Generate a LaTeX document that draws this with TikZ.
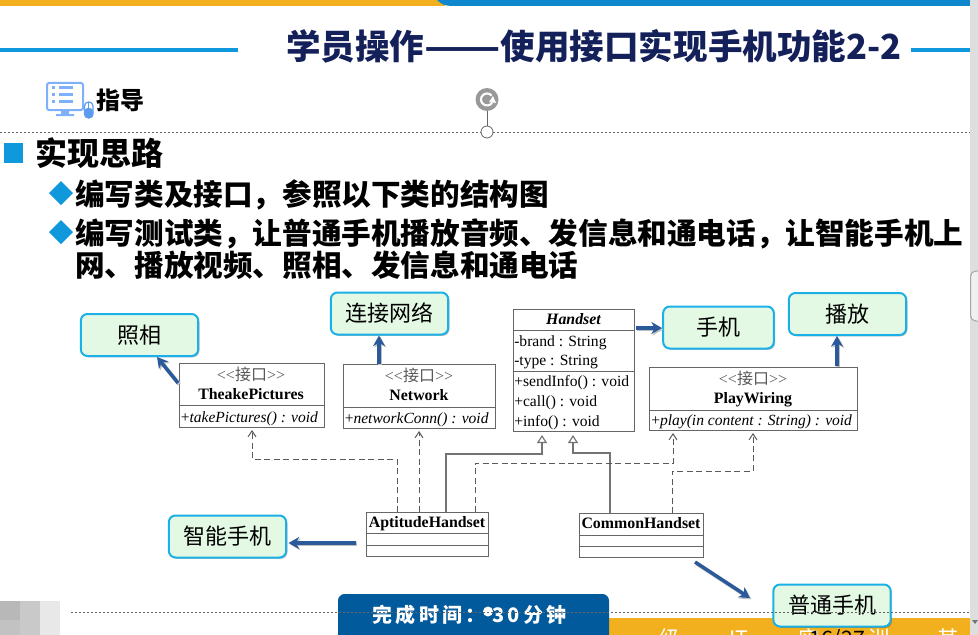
\documentclass[tikz,border=0pt]{standalone}
\usepackage{fontspec}
\usepackage{graphicx}
\usetikzlibrary{arrows.meta,shadows,calc,shapes.geometric}
\setmainfont{Liberation Serif}
\newfontfamily\cjk{Noto Sans CJK SC}
\newfontfamily\cjkspaced{Noto Sans CJK SC}[LetterSpace=17]
\newcommand\fs[1]{\fontsize{#1}{#1}\selectfont}
\newcommand\iface{<{}<{\cjk 接口}>{}>}
\definecolor{navy}{HTML}{14205A}
\definecolor{sky}{HTML}{1098DC}
\definecolor{gold}{HTML}{F2B01E}
\definecolor{topblue}{HTML}{0F87CC}
\definecolor{callfill}{HTML}{E3F9E3}
\definecolor{callline}{HTML}{1CB0E8}
\definecolor{arrowblue}{HTML}{2A5A9B}
\definecolor{umlline}{HTML}{666666}
\definecolor{iconblue}{HTML}{7FB0FA}
\definecolor{mouseblue}{HTML}{5B9BF0}
\definecolor{btn}{HTML}{005A9C}
\tikzset{
  x=0.75pt,y=-0.75pt,
  callout/.style={draw=callline,line width=1.5pt,fill=callfill,rounded corners=5pt,
    minimum width=88pt,minimum height=31.5pt,inner sep=0pt,font=\cjk\fs{16.5},
    drop shadow={shadow xshift=1pt,shadow yshift=-1pt,opacity=.25,fill=black}},
  umlbox/.style={draw=umlline,line width=.75pt,fill=white,inner sep=0pt,anchor=north west},
  umldiv/.style={draw=umlline,line width=.75pt},
  stereo/.style={inner sep=0pt,font=\fs{12},text=black!65},
  cname/.style={inner sep=0pt,font=\bfseries\fs{11.9}},
  oper/.style={inner sep=0pt,anchor=base west,font=\itshape\fs{11.65}},
  attr/.style={inner sep=0pt,anchor=base west,font=\fs{11.7}},
  heading/.style={inner sep=0pt,anchor=base west},
  dep/.style={draw=black!65,line width=.75pt,dash pattern=on 4.5pt off 2.6pt,shorten >=1.5pt,-{Straight Barb[length=4.5pt,width=6pt]}},
  inh/.style={draw=black!55,line width=.85pt,shorten >=2.25pt,-{Triangle[open,fill=white,length=6pt,width=7.5pt]}},
  note/.style={draw=arrowblue,line width=2.6pt,-{Stealth[length=8pt,width=9pt]},
    preaction={draw=black!25,line width=3pt,transform canvas={shift={(1pt,-1pt)}},-{Stealth[length=8pt,width=9pt]}}},
  dots/.style={draw=black!60,line width=.75pt,dash pattern=on 1.5pt off 1.5pt},
}
\begin{document}
\begin{tikzpicture}
\useasboundingbox (0,0) rectangle (978,635);
\clip (0,0) rectangle (978,635);
% window chrome and slide bands
\fill[gold] (0,0) rectangle (445,6);
\fill[topblue] (437,0) .. controls (441,4) and (445,6) .. (452,6) -- (972,6) -- (972,0) -- cycle;
\fill[black!13] (970,0) rectangle (978,635);
\draw[black!35,fill=black!6,line width=.75pt,rounded corners=4pt] (985,271) -- (970.5,271) -- (970.5,321) -- (985,321);
\fill[black!55] (972,620) -- (978,620) -- (975,624) -- cycle;
\fill[sky] (0,48.5) rectangle (238,52);
\fill[sky] (911,48.5) rectangle (970,52);
% blurred patch
\fill[black!28] (0,601) rectangle (20,620);
\fill[black!24] (0,620) rectangle (20,635);
\fill[black!21] (20,601) rectangle (40,635);
\fill[black!9] (40,601) rectangle (60,635);
% title
\node[heading,text=navy,font=\cjk\bfseries\fs{25.9}] (title) at (286,60) {学员操作\scalebox{1.29}[1]{——}使用接口实现手机功能2-2};
% icon
\draw[iconblue,line width=1.5pt,fill=white,rounded corners=1.5pt] (47,83) rectangle (83,110);
\fill[iconblue] (61,110) rectangle (69,114) (56,114) rectangle (74,116);
\foreach \yy in {88,95,102}{
  \fill[iconblue] (52,\yy-1.5) rectangle (55,\yy+1.5);
  \fill[iconblue] (59,\yy-1.5) rectangle (73,\yy+1.5);
}
\draw[mouseblue,line width=.9pt,fill=white,rounded corners=3pt] (84.5,102) rectangle (93,118);
\fill[mouseblue,rounded corners=2.5pt] (84.5,108) rectangle (93,118);
\draw[mouseblue,line width=.9pt] (88.7,102) -- (88.7,108);
\node[heading,font=\cjk\bfseries\fs{18}] (guide) at (96,109) {指导};
% rotate handle
\fill[black!40] (487,99.5) circle[radius=11.5];
\draw[white,line width=1.6pt] (487,99.5) ++(-40:6) arc[start angle=-40,end angle=-330,radius=6];
\fill[white] (493,96) -- (496,103) -- (489,102) -- cycle;
\coordinate (rot) at (487,111);
\node[circle,draw=black!60,fill=white,line width=.6pt,minimum size=9pt,inner sep=0pt] (handle) at (487,132) {};
\draw[black!60,line width=.6pt] (rot) -- (handle);
% bullets and body
\fill[sky] (4,143) rectangle (23,163);
\node[heading,font=\cjk\bfseries\fs{24}] (h1) at (35,165) {实现思路};
\foreach \yy in {193,232}{
  \fill[sky] (49,\yy) -- (61,\yy-12) -- (73,\yy) -- (61,\yy+12) -- cycle;
}
\node[heading,font=\cjk\bfseries\fs{22.2}] (l1) at (75,205.5) {编写类及接口，参照以下类的结构图};
\node[heading,font=\cjk\bfseries\fs{22.2}] (l2) at (75,244) {编写测试类，让普通手机播放音频、发信息和通电话，让智能手机上};
\node[heading,font=\cjk\bfseries\fs{22.2}] (l3) at (75,276) {网、播放视频、照相、发信息和通电话};
% UML boxes
\node[umlbox,minimum width=108.75pt,minimum height=48pt] (theake) at (179,363) {};
\node[umlbox,minimum width=114pt,minimum height=48pt] (net) at (343,364) {};
\node[umlbox,minimum width=90.75pt,minimum height=91.5pt] (hand) at (513,309) {};
\node[umlbox,minimum width=156pt,minimum height=47.25pt] (play) at (649,367) {};
\node[umlbox,minimum width=91.5pt,minimum height=33pt] (apt) at (366,512) {};
\node[umlbox,minimum width=93pt,minimum height=33pt] (com) at (579,513) {};
\draw[umldiv] (179,405) -- (324,405);
\draw[umldiv] (343,407) -- (495,407);
\draw[umldiv] (513,330) -- (634,330) (513,371) -- (634,371);
\draw[umldiv] (649,410) -- (857,410);
\draw[umldiv] (366,533) -- (488,533) (366,545) -- (488,545);
\draw[umldiv] (579,535) -- (703,535) (579,546) -- (703,546);
% UML text
\node[stereo] (s1) at (251,374) {\iface};
\node[cname] (n1) at (251,394) {TheakePictures};
\node[oper] (o1) at (180.5,422) {{\upshape+}takePictures() : void};
\node[stereo] (s2) at (419,375) {\iface};
\node[cname] (n2) at (419,395.5) {Network};
\node[oper] (o2) at (344.5,423) {{\upshape+}networkConn() : void};
\node[cname,font=\bfseries\itshape\fs{11.9}] (n3) at (573.5,319) {Handset};
\node[attr] (a1) at (514,346) {-brand : String};
\node[attr] (a2) at (514,365.5) {-type : String};
\node[attr] (a3) at (514,386.5) {+sendInfo() : void};
\node[attr] (a4) at (514,406) {+call() : void};
\node[attr] (a5) at (514,426) {+info() : void};
\node[stereo] (s4) at (753,378) {\iface};
\node[cname] (n4) at (753,399.5) {PlayWiring};
\node[oper] (o4) at (651,425) {{\upshape+}play(in content : String) : void};
\node[cname] (n5) at (427,524) {AptitudeHandset};
\node[cname] (n6) at (641,523.5) {CommonHandset};
% UML connectors
\draw[dep] (397,0 |- apt.north) -- (397,459) -- (252,459) -- (252,0 |- theake.south);
\draw[dep] (419,0 |- apt.north) -- (419,0 |- net.south);
\draw[inh] (446,0 |- apt.north) -- (446,454) -- (542,454) -- (542,0 |- hand.south);
\draw[inh] (610,0 |- com.north) -- (610,453) -- (573,453) -- (573,0 |- hand.south);
\draw[dep] (475,0 |- apt.north) -- (475,463) -- (673,463) -- (673,0 |- play.south);
\draw[dep] (672,0 |- com.north) -- (672,471) -- (753,471) -- (753,0 |- play.south);
% footer band
\fill[gold] (609,618) rectangle (970,635);
\fill[btn,rounded corners=5pt] (338,650) rectangle (609,594);
\node[heading,text=white,font=\cjkspaced\bfseries\fs{15}] (done) at (372,622) {完成时间：};
\node[heading,text=white,font=\cjkspaced\bfseries\fs{15}] (mins) at (492,622) {30分钟};
\fill[white] (488,611.5) circle[radius=5];
\node[heading,text=white,font=\cjk\fs{16}] (f1) at (659,646) {级};
\node[heading,text=white,font=\cjk\fs{16}] (f2) at (729,646) {IT};
\node[heading,text=white,font=\cjk\fs{16}] (f3) at (798,646) {实};
\node[heading,font=\cjk\fs{16}] (f4) at (809,646) {16/27};
\node[heading,text=white,font=\cjk\fs{16}] (f5) at (868,646) {训};
\node[heading,text=white,font=\cjk\fs{16}] (f6) at (937,646) {其};
% callouts
\node[callout] (c1) at (139.5,335) {照相};
\node[callout] (c2) at (389.5,313.5) {连接网络};
\node[callout,minimum width=83pt] (c3) at (718.5,327.5) {手机};
\node[callout] (c4) at (847.5,314) {播放};
\node[callout] (c5) at (227.5,536.5) {智能手机};
\node[callout] (c6) at (832,605.5) {普通手机};
% note arrows
\coordinate (t1) at (178,383);
\coordinate (t1e) at (157,357);
\coordinate (t6) at (695,562);
\coordinate (t6e) at (750,598);
\coordinate (t5) at (356,543);
\coordinate (t5e) at (288.5,543);
\coordinate (t3) at (636,328);
\coordinate (t3e) at (662,328);
\draw[note] (t1) -- (t1e);
\draw[note] (379,364) -- (379,0 |- c2.south);
\draw[note] (t3) -- (t3e);
\draw[note] (837,366) -- (837,0 |- c4.south);
\draw[note] (t5) -- (t5e);
\draw[note] (t6) -- (t6e);
% guides
\draw[dots] (0,132) -- (481,132) (493,132) -- (970,132);
\draw[dots] (71,612.5) -- (970,612.5);
\end{tikzpicture}
\end{document}
